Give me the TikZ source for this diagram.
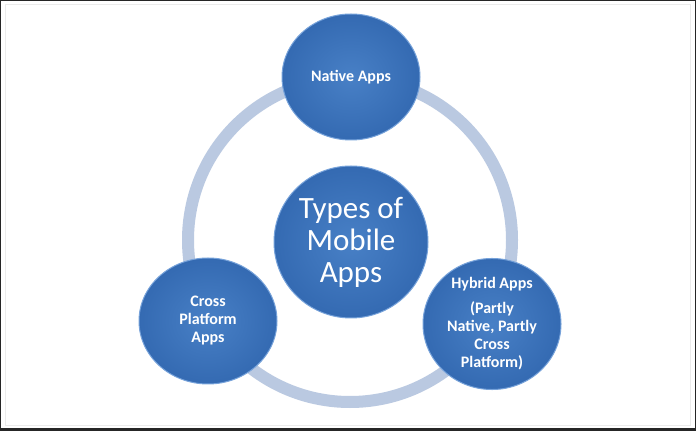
\documentclass[tikz,border=0pt]{standalone}
\usepackage{fontspec}
\setmainfont{Carlito}
\usetikzlibrary{shapes.geometric}

\definecolor{appblue}{RGB}{52,106,178}
\definecolor{appblueL}{RGB}{72,128,198}
\definecolor{apprim}{RGB}{118,162,218}
\definecolor{ringblue}{RGB}{186,201,225}

\tikzset{
  app/.style={ellipse, inner sep=0pt, inner color=appblueL, outer color=appblue,
    draw=apprim, line width=1pt, text=white, align=center},
  small app/.style={app, minimum width=138pt, minimum height=126pt,
    font=\bfseries\fontsize{16}{18}\selectfont},
  big app/.style={app, minimum width=154pt, minimum height=152pt,
    font=\fontsize{31}{32}\selectfont},
}

\begin{document}
\begin{tikzpicture}[x=1pt, y=1pt]
\def\cx{350};
\def\cy{191};
\def\rr{162};

\useasboundingbox (0,0) rectangle (696,431);
\fill[white] (0,0) rectangle (696,431);

% frame
\draw[black!8, line width=0.8pt] (5,6) rectangle (690,427);
\fill[black!85] (0,0) rectangle (696,3);
\fill[black!85] (0,430) rectangle (696,431);
\fill[black!85] (0,0) rectangle (1.2,431);
\fill[black!85] (694.5,0) rectangle (696,431);

% ring behind the circles
\draw[ringblue, line width=12pt] (\cx, \cy) circle[radius=\rr pt];

\node[big app] (types) at (351, 189) {Types of\\Mobile\\Apps};

\node[small app] (native) at (351, 354) {Native Apps};
\node[small app] (cross) at (208, 110) {Cross\\Platform\\Apps};
\node[small app] (hybrid) at (492, 107)
  {Hybrid Apps\\[7pt](Partly\\Native, Partly\\Cross\\Platform)};

\end{tikzpicture}
\end{document}
